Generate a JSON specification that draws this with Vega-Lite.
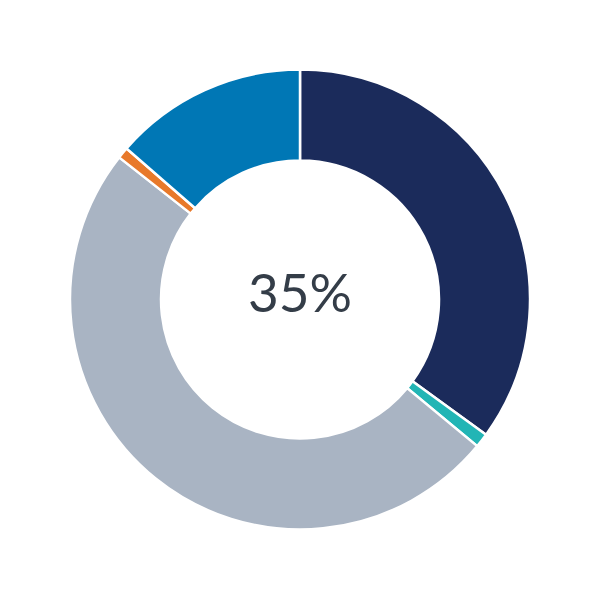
{
  "$schema": "https://vega.github.io/schema/vega-lite/v6.json",
  "width": 600,
  "height": 599,
  "autosize": {"type": "fit", "contains": "padding"},
  "padding": 0,
  "background": "white",
  "view": {"stroke": null},
  "layer": [
    {
      "data": {"values": [
        {"segment": "A", "value": 35, "order": 1},
        {"segment": "B", "value": 1, "order": 2},
        {"segment": "C", "value": 49.6, "order": 3},
        {"segment": "D", "value": 0.8, "order": 4},
        {"segment": "E", "value": 13.6, "order": 5}
      ]},
      "mark": {"type": "arc", "outerRadius": 230, "innerRadius": 139, "stroke": "white", "strokeWidth": 2.5},
      "encoding": {
        "theta": {"field": "value", "type": "quantitative", "stack": true},
        "order": {"field": "order", "type": "quantitative"},
        "color": {
          "field": "segment", "type": "nominal", "legend": null,
          "scale": {"domain": ["A", "B", "C", "D", "E"], "range": ["#1b2b5b", "#22b5b5", "#a9b4c3", "#e8792a", "#0077b5"]}
        }
      }
    },
    {
      "data": {"values": [{"label": "35%"}]},
      "mark": {"type": "text", "font": "Lato", "fontSize": 53, "fontWeight": 400, "color": "#343d48", "baseline": "middle", "align": "center", "dy": -4},
      "encoding": {"text": {"field": "label", "type": "nominal"}}
    }
  ]
}
